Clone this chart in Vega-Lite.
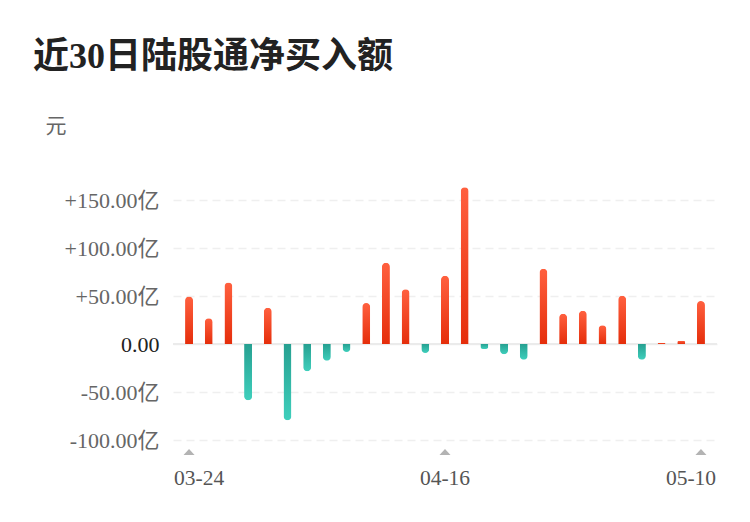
{
  "$schema": "https://vega.github.io/schema/vega-lite/v6.json",
  "autosize": "none",
  "width": 544,
  "height": 240,
  "padding": {"left": 173, "top": 200, "right": 33, "bottom": 82},
  "background": "#ffffff",
  "title": {
    "text": "近30日陆股通净买入额",
    "anchor": "start",
    "frame": "group",
    "dx": -140,
    "dy": -35,
    "font": "Liberation Serif, Noto Sans CJK SC",
    "fontSize": 36,
    "fontWeight": "bold",
    "color": "#222222"
  },
  "config": {
    "view": {"stroke": null},
    "font": "Liberation Serif, Noto Sans CJK SC"
  },
  "data": {
    "values": [
      {"date": "03-24", "value": 49.6},
      {"date": "03-25", "value": 26.9},
      {"date": "03-26", "value": 64.0},
      {"date": "03-29", "value": -58.7},
      {"date": "03-30", "value": 37.8},
      {"date": "03-31", "value": -79.4},
      {"date": "04-01", "value": -28.3},
      {"date": "04-08", "value": -17.5},
      {"date": "04-09", "value": -8.4},
      {"date": "04-12", "value": 42.7},
      {"date": "04-13", "value": 84.6},
      {"date": "04-14", "value": 57.0},
      {"date": "04-15", "value": -9.4},
      {"date": "04-16", "value": 71.0},
      {"date": "04-19", "value": 163.3},
      {"date": "04-20", "value": -5.2},
      {"date": "04-21", "value": -10.8},
      {"date": "04-22", "value": -16.4},
      {"date": "04-23", "value": 78.3},
      {"date": "04-26", "value": 31.5},
      {"date": "04-27", "value": 34.6},
      {"date": "04-28", "value": 19.6},
      {"date": "04-29", "value": 50.3},
      {"date": "04-30", "value": -16.4},
      {"date": "05-06", "value": 1.4},
      {"date": "05-07", "value": 3.5},
      {"date": "05-10", "value": 44.8}
    ]
  },
  "encoding": {
    "x": {
      "field": "date",
      "type": "ordinal",
      "sort": "ascending",
      "scale": {"type": "band", "paddingInner": 0, "paddingOuter": 0.315},
      "axis": {
        "title": null,
        "values": ["03-24", "04-16", "05-10"],
        "labelAngle": 0,
        "domain": false,
        "ticks": false,
        "tickSize": 0,
        "grid": false,
        "labelFont": "Liberation Serif",
        "labelFontSize": 21.5,
        "labelColor": "#555555",
        "labelBaseline": "alphabetic",
        "labelPadding": 44,
        "labelFlush": false,
        "labelAlign": "center",
        "labelOffset": {
          "condition": [
            {"test": "datum.value === '03-24'", "value": 10},
            {"test": "datum.value === '05-10'", "value": -10}
          ],
          "value": 0
        },
        "labelOverlap": false
      }
    }
  },
  "layer": [
    {
      "mark": {"type": "rule", "color": "#ebebeb", "strokeWidth": 1.5},
      "encoding": {"y": {"datum": 0, "type": "quantitative"}, "x": null}
    },
    {
      "transform": [{"filter": "datum.value >= 0"}],
      "mark": {
        "type": "bar",
        "width": 8,
        "cornerRadiusTopLeft": 4,
        "cornerRadiusTopRight": 4,
        "color": {
          "gradient": "linear",
          "x1": 0, "y1": 0, "x2": 0, "y2": 1,
          "stops": [
            {"offset": 0, "color": "#ff603f"},
            {"offset": 1, "color": "#e52e0b"}
          ]
        }
      },
      "encoding": {
        "y": {
          "field": "value",
          "type": "quantitative",
          "scale": {"domain": [-100, 150], "nice": false},
          "axis": {
            "title": "元",
            "titleAngle": 0,
            "titleX": -128,
            "titleY": -74,
            "titleAlign": "left",
            "titleBaseline": "middle",
            "titleFont": "Noto Sans CJK SC",
            "titleFontSize": 21,
            "titleFontWeight": "normal",
            "titleColor": "#666666",
            "values": [-100, -50, 0, 50, 100, 150],
            "domain": false,
            "ticks": false,
            "tickSize": 0,
            "labelPadding": 14,
            "labelFont": "Liberation Serif, Noto Sans CJK SC",
            "labelFontSize": 22,
            "labelColor": {"condition": {"test": "datum.value === 0", "value": "#222222"}, "value": "#666666"},
            "labelExpr": "datum.value > 0 ? '+' + format(datum.value, '.2f') + '亿' : (datum.value < 0 ? '-' + format(-datum.value, '.2f') + '亿' : '0.00')",
            "grid": true,
            "gridColor": "#efefef",
            "gridWidth": 1.5,
            "gridDash": {"condition": {"test": "datum.value === 0", "value": []}, "value": [8, 5]}
          }
        }
      }
    },
    {
      "transform": [{"filter": "datum.value < 0"}],
      "mark": {
        "type": "bar",
        "width": 8,
        "cornerRadiusBottomLeft": 4,
        "cornerRadiusBottomRight": 4,
        "color": {
          "gradient": "linear",
          "x1": 0, "y1": 0, "x2": 0, "y2": 1,
          "stops": [
            {"offset": 0, "color": "#26a091"},
            {"offset": 1, "color": "#3fcfbc"}
          ]
        }
      },
      "encoding": {
        "y": {"field": "value", "type": "quantitative"}
      }
    },
    {
      "transform": [{"filter": "indexof(['03-24','04-16','05-10'], datum.date) >= 0"}],
      "mark": {
        "type": "point",
        "shape": "M-1,0.55L0,-0.55L1,0.55Z",
        "size": 121,
        "filled": true,
        "opacity": 1,
        "color": "#b3b3b3",
        "strokeWidth": 0,
        "yOffset": 12
      },
      "encoding": {
        "y": {"datum": -100, "type": "quantitative"}
      }
    }
  ]
}
